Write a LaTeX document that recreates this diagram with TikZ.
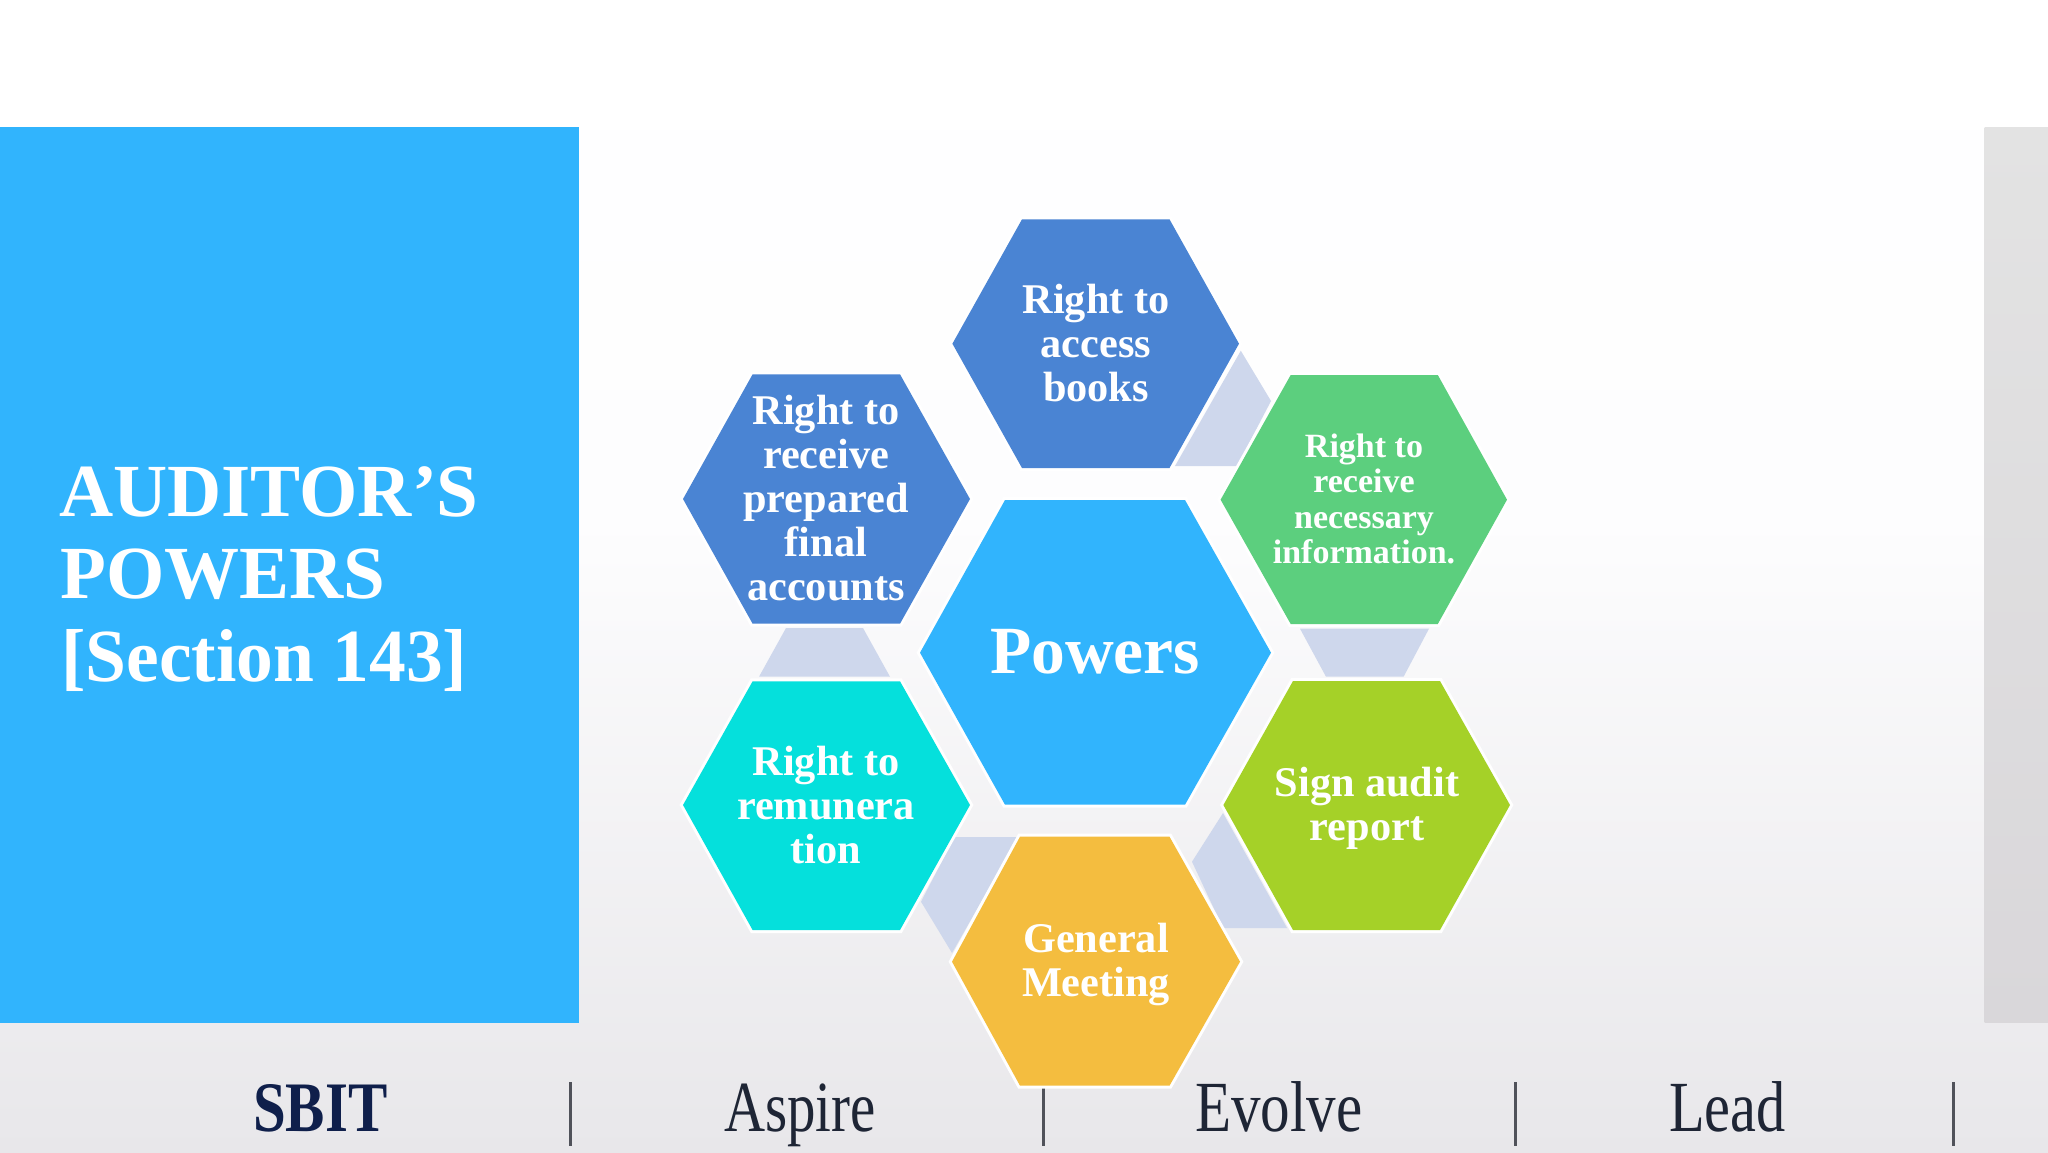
\documentclass[tikz,border=0pt]{standalone}
\usepackage{graphicx}
\usepackage{fontspec}
\setmainfont{Liberation Serif}
\definecolor{skyb}{HTML}{31B4FD}
\definecolor{royal}{HTML}{4A84D3}
\definecolor{leaf}{HTML}{5CCF7E}
\definecolor{aqua}{HTML}{05E0DC}
\definecolor{lime}{HTML}{A5D128}
\definecolor{amber}{HTML}{F4BD3F}
\definecolor{linkc}{HTML}{CED7EC}
\definecolor{navy}{HTML}{0F1F4B}
\definecolor{ink}{HTML}{1E2535}
\definecolor{barc}{HTML}{50525A}
\definecolor{bgA}{HTML}{FDFDFE}
\definecolor{bgB}{HTML}{E8E7EA}
\definecolor{sideA}{HTML}{E3E3E3}
\definecolor{sideB}{HTML}{D9D7DA}
\tikzset{
  hexbox/.style={preaction={draw=white,line width=6pt,line join=miter}},
  linkbox/.style={fill=linkc,draw=none},
  hextext/.style={text=white,align=center,inner sep=0pt,anchor=center,
     font=\bfseries\fontsize{42.3}{44}\selectfont},
  smalltext/.style={hextext,font=\bfseries\fontsize{34}{35.5}\selectfont},
  foot/.style={text=ink,inner sep=0pt,anchor=base west,font=\fontsize{72}{74}\selectfont},
  title/.style={text=white,inner sep=0pt,anchor=base west,font=\bfseries\fontsize{75}{83}\selectfont},
  vbar/.style={draw=barc,line width=3pt},
}
\newcommand{\hexa}[8]{% colour,L,R,TL,TR,T,B,M
  \path[hexbox,fill=#1] (#2,#8)--(#4,#6)--(#5,#6)--(#3,#8)--(#5,#7)--(#4,#7)--cycle;}
\newcommand{\narrow}[2]{\scalebox{#1}[1]{#2}}
\begin{document}
\begin{tikzpicture}[x=1pt,y=-1pt]
\useasboundingbox (0,0) rectangle (2048,1152);
\shade[top color=white,bottom color=bgA,draw=none] (0,0) rectangle (2048,520);
\shade[top color=bgA,bottom color=bgB,draw=none] (0,520) rectangle (2048,1152);
\fill[skyb] (0,127) rectangle (578.5,1022.5);
\shade[top color=sideA,bottom color=sideB,draw=none] (1984.5,127) rectangle (2048,1022.5);
% title
\node[title] (t1) at (59,516) {AUDITOR’S};
\node[title] (t2) at (60,598.5) {POWERS};
\node[title] (t3) at (61,681.5) {\narrow{0.98}{[Section 143]}};
% footer
\node[foot,text=navy,font=\bfseries\fontsize{71}{74}\selectfont] (f1) at (253,1131.5) {\narrow{0.83}{SBIT}};
\node[foot] (f2) at (724,1131.5) {\narrow{0.79}{Aspire}};
\node[foot] (f3) at (1195,1131.5) {\narrow{0.82}{Evolve}};
\node[foot] (f4) at (1669,1131.5) {\narrow{0.81}{Lead}};
\foreach \bx in {570,1043,1515,1953.5}
  \draw[vbar] (\bx,1082) -- (\bx,1146);
% links
\fill[linkbox] (1240.8,350.7)--(1271,401)--(1237,466)--(1175,466)--cycle;
\fill[linkbox] (1300,628.7)--(1429,628.7)--(1403.6,676.7)--(1326,676.7)--cycle;
\fill[linkbox] (1223,813)--(1192,861.7)--(1223,928)--(1287,928)--cycle;
\fill[linkbox] (1018,837)--(954.6,837)--(921,901.7)--(952,953)--cycle;
\fill[linkbox] (786,628)--(863,628)--(890,676.7)--(759,676.7)--cycle;
% hexagons
\hexa{royal}{952.4}{1239}{1022}{1169.5}{219.3}{468}{343.7}
\hexa{royal}{683}{970}{752.6}{900}{374.3}{623.7}{499}
\hexa{leaf}{1220.6}{1507}{1290.7}{1437.8}{375}{624}{499.7}
\hexa{skyb}{920}{1271}{1005}{1185}{500}{804.7}{652.7}
\hexa{aqua}{683}{970}{752.6}{900}{681.3}{930}{805}
\hexa{lime}{1223.4}{1510}{1293}{1440}{681}{930}{805}
\hexa{amber}{952}{1240}{1020}{1169.5}{836.7}{1085.7}{961.7}
% labels
\node[hextext] (n1) at (1096,343) {Right to\\access\\books};
\node[hextext] (n2) at (826,498) {Right to\\receive\\prepared\\final\\accounts};
\node[smalltext] (n3) at (1364,499) {Right to\\receive\\necessary\\information.};
\node[hextext,font=\bfseries\fontsize{67.5}{70}\selectfont] (n0) at (1095,652) {Powers};
\node[hextext] (n4) at (826,805) {Right to\\remunera\\tion};
\node[hextext] (n5) at (1367,808) {Sign audit\\report};
\node[hextext] (n6) at (1096,964) {General\\Meeting};
\end{tikzpicture}
\end{document}
